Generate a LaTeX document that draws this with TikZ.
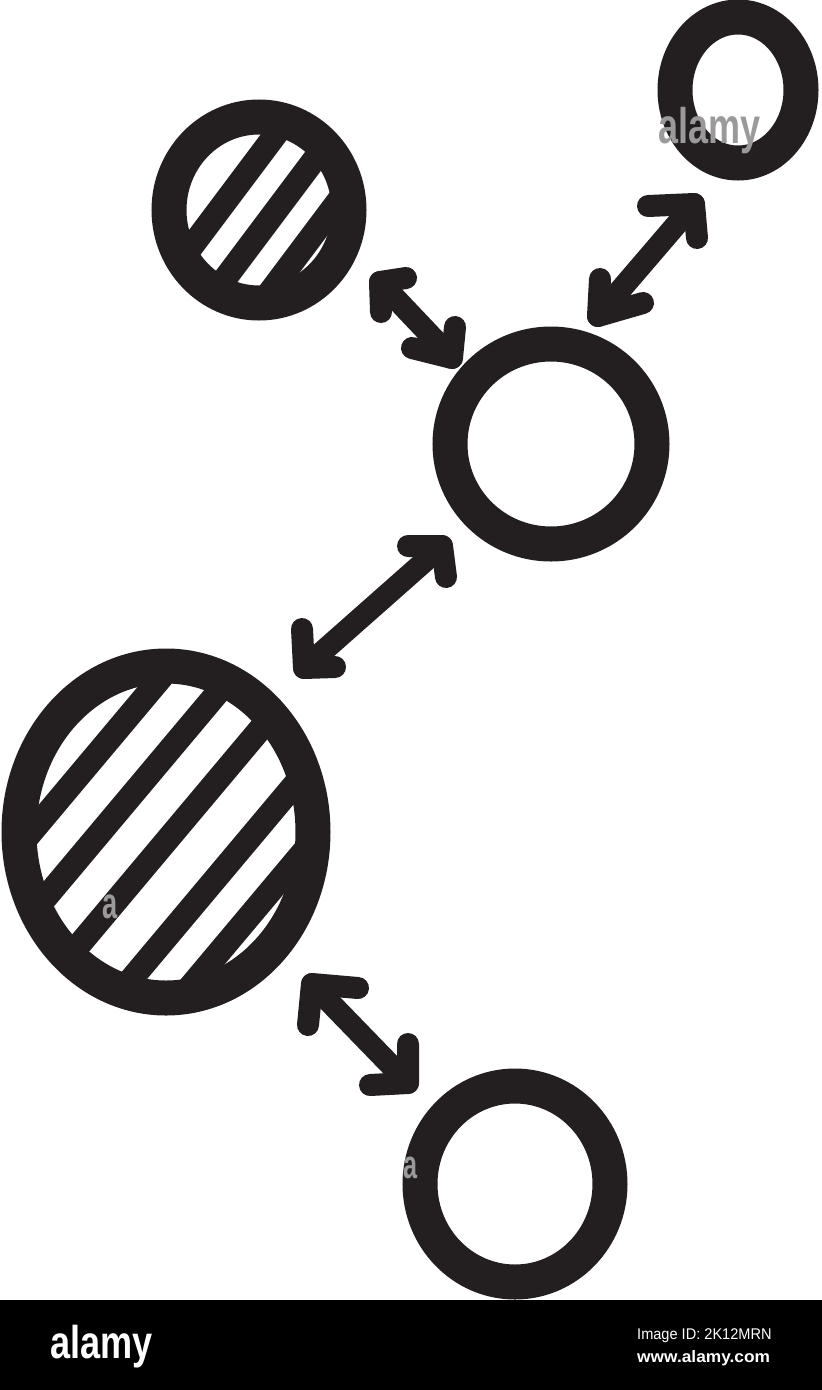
\documentclass[tikz,border=0pt]{standalone}
\usepackage{fontspec}
\setmainfont{Liberation Sans}
\usetikzlibrary{calc}
\definecolor{ink}{HTML}{231F20}
\definecolor{wm}{HTML}{9A9A9A}
\begin{document}
\begin{tikzpicture}[x=1pt,y=-1pt]
\tikzset{
  ring/.style={draw=ink, line width=35pt},
  stripe/.style={draw=ink, line width=24pt, line cap=butt},
  arr/.style={draw=ink, line width=22pt, line cap=round, line join=round},
  wmark/.style={text=wm, inner sep=0pt, anchor=base west},
}
\useasboundingbox (0,0) rectangle (822,1390);
\fill[white] (0,0) rectangle (822,1390);

% centres of the blobs
\coordinate (tl) at (259,210);
\coordinate (tr) at (738,90);
\coordinate (mid) at (551,444);
\coordinate (big) at (166,832);
\coordinate (bot) at (515,1184);

% hatching, top-left
\begin{scope}
  \clip (tl) ellipse [x radius=90pt, y radius=93pt];
  \foreach \o in {-32,14,58}{
    \draw[stripe] ({259+0.8*\o-0.6*150},{210+0.6*\o+0.8*150}) -- ({259+0.8*\o+0.6*150},{210+0.6*\o-0.8*150});
  }
\end{scope}
% hatching, big
\begin{scope}
  \clip (big) ellipse [x radius=147pt, y radius=166pt];
  \foreach \o in {-103,-50,6,68,118}{
    \draw[stripe] ({166+0.766*\o-0.643*250},{832+0.643*\o+0.766*250}) -- ({166+0.766*\o+0.643*250},{832+0.643*\o-0.766*250});
  }
\end{scope}

% rings
\draw[ring] (tl) ellipse [x radius=90pt, y radius=93pt];
\draw[ring] (tr) ellipse [x radius=63pt, y radius=73pt];
\draw[ring] (mid) ellipse [x radius=101pt, y radius=100pt];
\draw[ring] (big) ellipse [x radius=147pt, y radius=166pt];
\draw[ring] (bot) ellipse [x radius=95pt, y radius=98pt];

% arrow end points
\coordinate (a1s) at (380,282); \coordinate (a1sa) at (381,312); \coordinate (a1sb) at (406,278);
\coordinate (a1e) at (452,358); \coordinate (a1ea) at (455,327); \coordinate (a1eb) at (412,348);
\coordinate (a2s) at (694,204); \coordinate (a2sa) at (648,206); \coordinate (a2sb) at (697,238);
\coordinate (a2e) at (598,316); \coordinate (a2ea) at (600,279); \coordinate (a2eb) at (643,303);
\coordinate (a3s) at (442,546); \coordinate (a3sa) at (408,546); \coordinate (a3sb) at (446,577);
\coordinate (a3e) at (304,668); \coordinate (a3ea) at (302,629); \coordinate (a3eb) at (335,667);
\coordinate (a4s) at (312,984); \coordinate (a4sa) at (358,988); \coordinate (a4sb) at (308,1025);
\coordinate (a4e) at (408,1083); \coordinate (a4ea) at (408,1044); \coordinate (a4eb) at (370,1085);

\foreach \a in {a1,a2,a3,a4}{
  \draw[arr] (\a s) -- (\a e);
  \draw[arr] (\a sa) -- (\a s) -- (\a sb);
  \draw[arr] (\a ea) -- (\a e) -- (\a eb);
}

% faint watermark marks
\node[wmark, font=\bfseries\fontsize{50}{50}\selectfont] (wm1) at (658,143) {\scalebox{0.72}[1]{alamy}};
\node[wmark, font=\bfseries\fontsize{44}{44}\selectfont] (wm2) at (102,918) {\scalebox{0.62}[1]{a}};
\node[wmark, font=\bfseries\fontsize{40}{40}\selectfont] (wm3) at (403,1178) {\scalebox{0.63}[1]{a}};

% banner
\fill[black] (0,1300) rectangle (822,1390);
\node[anchor=base west, inner sep=0pt, text=white, font=\bfseries\fontsize{46}{46}\selectfont] (logo) at (50,1358) {\scalebox{0.785}[1]{alamy}};
\node[anchor=base west, inner sep=0pt, text=white, font=\fontsize{15.5}{15.5}\selectfont] (imgid) at (637,1339) {\scalebox{0.94}[1]{Image ID: 2K12MRN}};
\node[anchor=base west, inner sep=0pt, text=white, font=\bfseries\fontsize{16.5}{16.5}\selectfont] (url) at (637,1362) {\scalebox{1.05}[1]{www.alamy.com}};
\end{tikzpicture}
\end{document}
